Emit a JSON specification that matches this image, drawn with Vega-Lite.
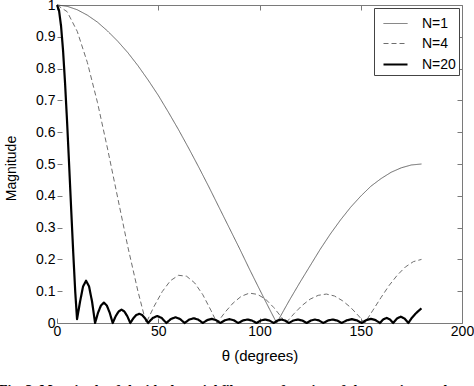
{
  "$schema": "https://vega.github.io/schema/vega-lite/v6.json",
  "width": 405,
  "height": 318,
  "autosize": "none",
  "padding": {"left": 57, "top": 5, "right": 12, "bottom": 63},
  "background": "white",
  "config": {
    "view": {"stroke": null},
    "font": "Liberation Sans",
    "axis": {"grid": false, "labelFlush": false, "labelOverlap": false, "domainColor": "#7a7a7a", "tickColor": "#7a7a7a", "domainWidth": 1, "tickWidth": 1, "labelColor": "#000", "titleColor": "#000", "labelFontSize": 14, "titleFontSize": 14, "titleFontWeight": "normal"}
  },
  "title": {"text": "Fig. 3.  Magnitude of the ideal spatial filter as a function of the steering angle", "orient": "bottom", "anchor": "start", "frame": "bounds", "font": "Liberation Serif", "fontSize": 14, "fontWeight": "bold", "offset": 21, "dx": -5, "color": "#000"},
  "data": {"values": [
    {"series": "N=1", "theta": 0, "mag": 1},
    {"series": "N=1", "theta": 5, "mag": 0.996},
    {"series": "N=1", "theta": 10, "mag": 0.985},
    {"series": "N=1", "theta": 15, "mag": 0.968},
    {"series": "N=1", "theta": 20, "mag": 0.946},
    {"series": "N=1", "theta": 25, "mag": 0.918},
    {"series": "N=1", "theta": 30, "mag": 0.886},
    {"series": "N=1", "theta": 35, "mag": 0.85},
    {"series": "N=1", "theta": 40, "mag": 0.809},
    {"series": "N=1", "theta": 45, "mag": 0.764},
    {"series": "N=1", "theta": 50, "mag": 0.716},
    {"series": "N=1", "theta": 55, "mag": 0.663},
    {"series": "N=1", "theta": 60, "mag": 0.608},
    {"series": "N=1", "theta": 65, "mag": 0.55},
    {"series": "N=1", "theta": 70, "mag": 0.49},
    {"series": "N=1", "theta": 75, "mag": 0.428},
    {"series": "N=1", "theta": 80, "mag": 0.364},
    {"series": "N=1", "theta": 85, "mag": 0.3},
    {"series": "N=1", "theta": 90, "mag": 0.236},
    {"series": "N=1", "theta": 95, "mag": 0.17},
    {"series": "N=1", "theta": 100, "mag": 0.106},
    {"series": "N=1", "theta": 105, "mag": 0.043},
    {"series": "N=1", "theta": 108.5, "mag": 0},
    {"series": "N=1", "theta": 112, "mag": 0.04},
    {"series": "N=1", "theta": 115, "mag": 0.074},
    {"series": "N=1", "theta": 120, "mag": 0.128},
    {"series": "N=1", "theta": 125, "mag": 0.18},
    {"series": "N=1", "theta": 130, "mag": 0.232},
    {"series": "N=1", "theta": 135, "mag": 0.28},
    {"series": "N=1", "theta": 140, "mag": 0.324},
    {"series": "N=1", "theta": 145, "mag": 0.364},
    {"series": "N=1", "theta": 150, "mag": 0.399},
    {"series": "N=1", "theta": 155, "mag": 0.43},
    {"series": "N=1", "theta": 160, "mag": 0.454},
    {"series": "N=1", "theta": 165, "mag": 0.474},
    {"series": "N=1", "theta": 170, "mag": 0.488},
    {"series": "N=1", "theta": 175, "mag": 0.497},
    {"series": "N=1", "theta": 180, "mag": 0.5},
    {"series": "N=4", "theta": 0, "mag": 1},
    {"series": "N=4", "theta": 5, "mag": 0.979},
    {"series": "N=4", "theta": 10, "mag": 0.917},
    {"series": "N=4", "theta": 15, "mag": 0.819},
    {"series": "N=4", "theta": 20, "mag": 0.693},
    {"series": "N=4", "theta": 25, "mag": 0.547},
    {"series": "N=4", "theta": 30, "mag": 0.393},
    {"series": "N=4", "theta": 35, "mag": 0.239},
    {"series": "N=4", "theta": 40, "mag": 0.099},
    {"series": "N=4", "theta": 44, "mag": 0},
    {"series": "N=4", "theta": 48, "mag": 0.053},
    {"series": "N=4", "theta": 52, "mag": 0.099},
    {"series": "N=4", "theta": 56, "mag": 0.133},
    {"series": "N=4", "theta": 60, "mag": 0.15},
    {"series": "N=4", "theta": 64, "mag": 0.147},
    {"series": "N=4", "theta": 68, "mag": 0.126},
    {"series": "N=4", "theta": 72, "mag": 0.089},
    {"series": "N=4", "theta": 76, "mag": 0.04},
    {"series": "N=4", "theta": 79, "mag": 0},
    {"series": "N=4", "theta": 83, "mag": 0.034},
    {"series": "N=4", "theta": 87, "mag": 0.063},
    {"series": "N=4", "theta": 91, "mag": 0.084},
    {"series": "N=4", "theta": 95, "mag": 0.094},
    {"series": "N=4", "theta": 99, "mag": 0.09},
    {"series": "N=4", "theta": 103, "mag": 0.075},
    {"series": "N=4", "theta": 107, "mag": 0.049},
    {"series": "N=4", "theta": 111, "mag": 0.017},
    {"series": "N=4", "theta": 113, "mag": 0},
    {"series": "N=4", "theta": 117, "mag": 0.029},
    {"series": "N=4", "theta": 121, "mag": 0.055},
    {"series": "N=4", "theta": 125, "mag": 0.075},
    {"series": "N=4", "theta": 129, "mag": 0.087},
    {"series": "N=4", "theta": 133, "mag": 0.091},
    {"series": "N=4", "theta": 137, "mag": 0.085},
    {"series": "N=4", "theta": 141, "mag": 0.07},
    {"series": "N=4", "theta": 145, "mag": 0.049},
    {"series": "N=4", "theta": 149, "mag": 0.022},
    {"series": "N=4", "theta": 152, "mag": 0},
    {"series": "N=4", "theta": 156, "mag": 0.04},
    {"series": "N=4", "theta": 160, "mag": 0.08},
    {"series": "N=4", "theta": 164, "mag": 0.118},
    {"series": "N=4", "theta": 168, "mag": 0.15},
    {"series": "N=4", "theta": 172, "mag": 0.176},
    {"series": "N=4", "theta": 176, "mag": 0.193},
    {"series": "N=4", "theta": 180, "mag": 0.2},
    {"series": "N=20", "theta": 0, "mag": 1},
    {"series": "N=20", "theta": 1, "mag": 0.983},
    {"series": "N=20", "theta": 2, "mag": 0.934},
    {"series": "N=20", "theta": 3, "mag": 0.856},
    {"series": "N=20", "theta": 4, "mag": 0.752},
    {"series": "N=20", "theta": 5, "mag": 0.63},
    {"series": "N=20", "theta": 6, "mag": 0.496},
    {"series": "N=20", "theta": 7, "mag": 0.358},
    {"series": "N=20", "theta": 8, "mag": 0.223},
    {"series": "N=20", "theta": 9, "mag": 0.099},
    {"series": "N=20", "theta": 9.9, "mag": 0.012},
    {"series": "N=20", "theta": 11.38, "mag": 0.067},
    {"series": "N=20", "theta": 12.87, "mag": 0.115},
    {"series": "N=20", "theta": 14.35, "mag": 0.133},
    {"series": "N=20", "theta": 15.83, "mag": 0.115},
    {"series": "N=20", "theta": 17.32, "mag": 0.067},
    {"series": "N=20", "theta": 18.8, "mag": 0},
    {"series": "N=20", "theta": 20.25, "mag": 0.032},
    {"series": "N=20", "theta": 21.7, "mag": 0.055},
    {"series": "N=20", "theta": 23.15, "mag": 0.064},
    {"series": "N=20", "theta": 24.6, "mag": 0.055},
    {"series": "N=20", "theta": 26.05, "mag": 0.032},
    {"series": "N=20", "theta": 27.5, "mag": 0},
    {"series": "N=20", "theta": 28.95, "mag": 0.021},
    {"series": "N=20", "theta": 30.4, "mag": 0.036},
    {"series": "N=20", "theta": 31.85, "mag": 0.042},
    {"series": "N=20", "theta": 33.3, "mag": 0.036},
    {"series": "N=20", "theta": 34.75, "mag": 0.021},
    {"series": "N=20", "theta": 36.2, "mag": 0},
    {"series": "N=20", "theta": 37.67, "mag": 0.0145},
    {"series": "N=20", "theta": 39.13, "mag": 0.025},
    {"series": "N=20", "theta": 40.6, "mag": 0.029},
    {"series": "N=20", "theta": 42.07, "mag": 0.025},
    {"series": "N=20", "theta": 43.53, "mag": 0.0145},
    {"series": "N=20", "theta": 45, "mag": 0},
    {"series": "N=20", "theta": 47.25, "mag": 0.0156},
    {"series": "N=20", "theta": 49.5, "mag": 0.022},
    {"series": "N=20", "theta": 51.75, "mag": 0.0156},
    {"series": "N=20", "theta": 54, "mag": 0},
    {"series": "N=20", "theta": 56.25, "mag": 0.0127},
    {"series": "N=20", "theta": 58.5, "mag": 0.018},
    {"series": "N=20", "theta": 60.75, "mag": 0.0127},
    {"series": "N=20", "theta": 63, "mag": 0},
    {"series": "N=20", "theta": 65.25, "mag": 0.0106},
    {"series": "N=20", "theta": 67.5, "mag": 0.015},
    {"series": "N=20", "theta": 69.75, "mag": 0.0106},
    {"series": "N=20", "theta": 72, "mag": 0},
    {"series": "N=20", "theta": 74.2, "mag": 0.0092},
    {"series": "N=20", "theta": 76.35, "mag": 0.013},
    {"series": "N=20", "theta": 78.5, "mag": 0.0092},
    {"series": "N=20", "theta": 80.7, "mag": 0},
    {"series": "N=20", "theta": 82.9, "mag": 0.0085},
    {"series": "N=20", "theta": 85.1, "mag": 0.012},
    {"series": "N=20", "theta": 87.3, "mag": 0.0085},
    {"series": "N=20", "theta": 89.5, "mag": 0},
    {"series": "N=20", "theta": 91.75, "mag": 0.0078},
    {"series": "N=20", "theta": 94, "mag": 0.011},
    {"series": "N=20", "theta": 96.25, "mag": 0.0078},
    {"series": "N=20", "theta": 98.5, "mag": 0},
    {"series": "N=20", "theta": 100.6, "mag": 0.0078},
    {"series": "N=20", "theta": 102.75, "mag": 0.011},
    {"series": "N=20", "theta": 104.9, "mag": 0.0078},
    {"series": "N=20", "theta": 107, "mag": 0},
    {"series": "N=20", "theta": 108.9, "mag": 0.0078},
    {"series": "N=20", "theta": 110.75, "mag": 0.011},
    {"series": "N=20", "theta": 112.6, "mag": 0.0078},
    {"series": "N=20", "theta": 114.5, "mag": 0},
    {"series": "N=20", "theta": 116.7, "mag": 0.0078},
    {"series": "N=20", "theta": 118.9, "mag": 0.011},
    {"series": "N=20", "theta": 121.1, "mag": 0.0078},
    {"series": "N=20", "theta": 123.3, "mag": 0},
    {"series": "N=20", "theta": 125.35, "mag": 0.0078},
    {"series": "N=20", "theta": 127.4, "mag": 0.011},
    {"series": "N=20", "theta": 129.45, "mag": 0.0078},
    {"series": "N=20", "theta": 131.5, "mag": 0},
    {"series": "N=20", "theta": 133.8, "mag": 0.0078},
    {"series": "N=20", "theta": 136, "mag": 0.011},
    {"series": "N=20", "theta": 138.3, "mag": 0.0078},
    {"series": "N=20", "theta": 140.6, "mag": 0},
    {"series": "N=20", "theta": 143.1, "mag": 0.0085},
    {"series": "N=20", "theta": 145.6, "mag": 0.012},
    {"series": "N=20", "theta": 148, "mag": 0.0085},
    {"series": "N=20", "theta": 150.5, "mag": 0},
    {"series": "N=20", "theta": 152.75, "mag": 0.0092},
    {"series": "N=20", "theta": 155, "mag": 0.013},
    {"series": "N=20", "theta": 157.25, "mag": 0.0092},
    {"series": "N=20", "theta": 159.5, "mag": 0},
    {"series": "N=20", "theta": 161.1, "mag": 0.0113},
    {"series": "N=20", "theta": 162.75, "mag": 0.016},
    {"series": "N=20", "theta": 164.4, "mag": 0.0113},
    {"series": "N=20", "theta": 166, "mag": 0},
    {"series": "N=20", "theta": 167.9, "mag": 0.0141},
    {"series": "N=20", "theta": 169.75, "mag": 0.02},
    {"series": "N=20", "theta": 171.6, "mag": 0.0141},
    {"series": "N=20", "theta": 173.5, "mag": 0},
    {"series": "N=20", "theta": 175.2, "mag": 0.016},
    {"series": "N=20", "theta": 177, "mag": 0.029},
    {"series": "N=20", "theta": 178.5, "mag": 0.038},
    {"series": "N=20", "theta": 180, "mag": 0.046}
  ]},
  "layer": [
    {
      "mark": {"type": "line", "strokeJoin": "round"},
      "encoding": {
        "x": {"field": "theta", "type": "quantitative", "scale": {"domain": [0, 200], "nice": false},
          "axis": {"orient": "bottom", "values": [0, 50, 100, 150, 200], "tickSize": -5, "labelPadding": 6, "domain": true, "title": "θ (degrees)", "titleY": 37, "titleBaseline": "alphabetic", "titleFontSize": 15}},
        "y": {"field": "mag", "type": "quantitative", "scale": {"domain": [0, 1], "nice": false},
          "axis": {"orient": "left", "values": [0, 0.1, 0.2, 0.3, 0.4, 0.5, 0.6, 0.7, 0.8, 0.9, 1], "format": "~g", "tickSize": -5, "labelPadding": 7, "domain": false, "title": "Magnitude", "titleX": -42, "titleY": 163, "titleAngle": -90, "titleBaseline": "alphabetic"}},
        "color": {"field": "series", "type": "nominal", "scale": {"domain": ["N=1", "N=4", "N=20"], "range": ["#555555", "#6e6e6e", "#000000"]},
          "legend": {"title": null, "orient": "none", "legendX": 317, "legendY": 3, "symbolType": "stroke", "symbolSize": 576, "symbolOffset": 5, "labelFontSize": 14, "labelColor": "#000", "labelOffset": 13, "labelExpr": "datum.label + '   '", "padding": 3, "rowPadding": -12, "strokeColor": "#444", "fillColor": "#ffffff", "symbolStrokeWidth": 1}},
        "strokeDash": {"field": "series", "type": "nominal", "scale": {"domain": ["N=1", "N=4", "N=20"], "range": [[1, 0], [5, 3], [1, 0]]}, "legend": {"title": null}},
        "strokeWidth": {"field": "series", "type": "nominal", "scale": {"type": "ordinal", "domain": ["N=1", "N=4", "N=20"], "range": [0.9, 1, 2.2]}, "legend": {"title": null}}
      }
    },
    {
      "mark": {"type": "line", "opacity": 0},
      "encoding": {
        "x": {"field": "theta", "type": "quantitative", "scale": {"domain": [0, 200], "nice": false},
          "axis": {"orient": "top", "values": [0, 50, 100, 150, 200], "tickSize": -5, "labels": false, "title": null, "domain": true}},
        "y": {"field": "mag", "type": "quantitative", "scale": {"domain": [0, 1], "nice": false},
          "axis": {"orient": "right", "values": [0, 0.1, 0.2, 0.3, 0.4, 0.5, 0.6, 0.7, 0.8, 0.9, 1], "tickSize": -5, "labels": false, "title": null, "domain": true}}
      }
    }
  ],
  "resolve": {"axis": {"x": "independent", "y": "independent"}}
}
